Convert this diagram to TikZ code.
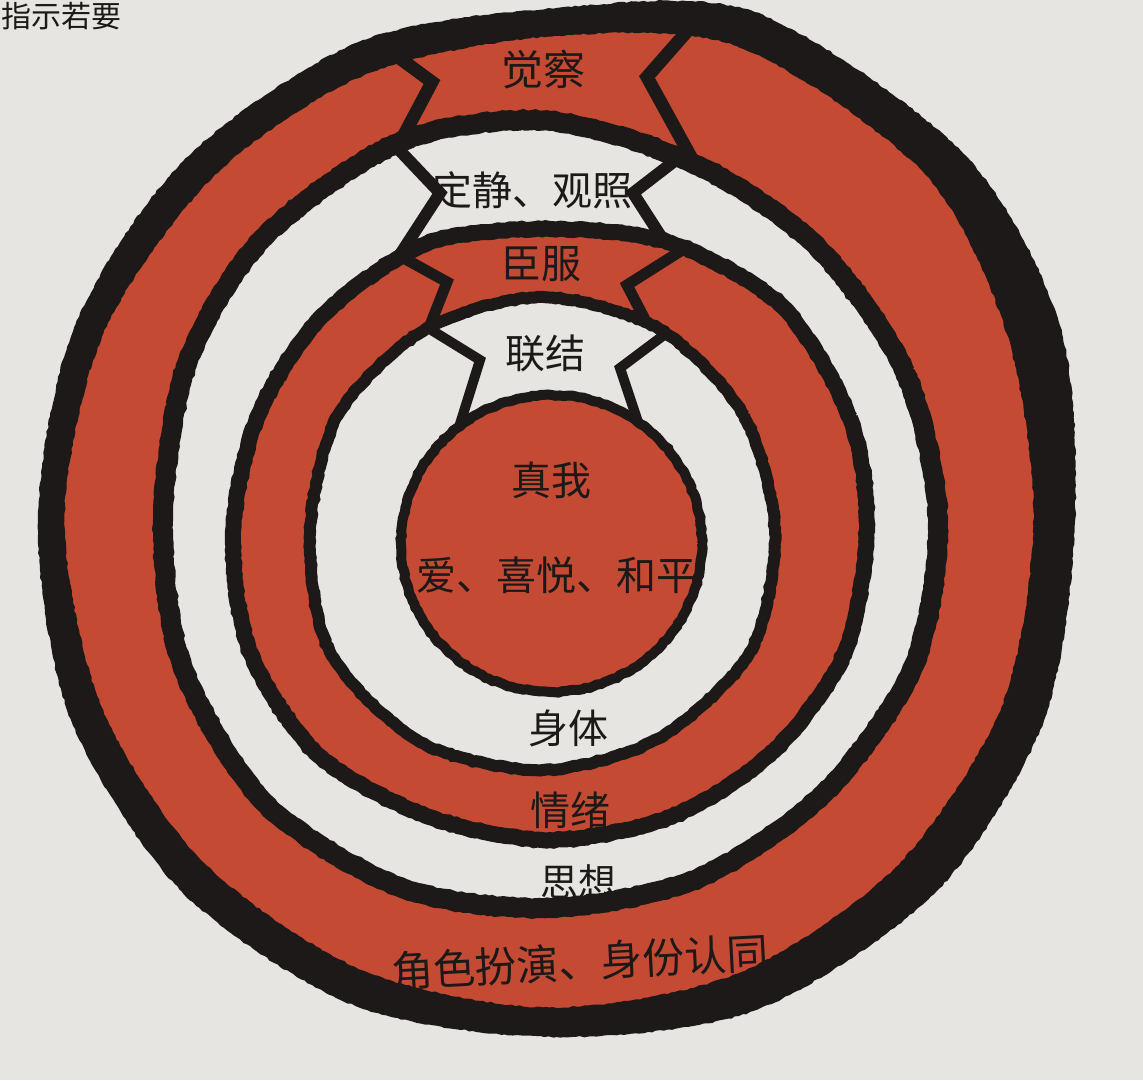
\documentclass[tikz,border=0pt]{standalone}
\usepackage{fontspec}
\usetikzlibrary{decorations.pathmorphing}
\newfontfamily\cjk{Noto Sans CJK SC}
\definecolor{paper}{HTML}{E6E5E1}
\definecolor{ring}{HTML}{C44A33}
\definecolor{ink}{HTML}{1C1918}
\begin{document}
\begin{tikzpicture}[x=1pt,y=-1pt,
  zig/.style={draw=ink, line width=#1, line cap=butt, line join=miter},
  rough/.style={decorate, decoration={random steps, segment length=4pt, amplitude=0.8pt}},
  lab/.style={text=ink, inner sep=0pt, font=\cjk\fontsize{40}{48}\selectfont},
  bigl/.style={text=ink, inner sep=0pt, font=\cjk\fontsize{42}{50}\selectfont},
]
\pgfmathsetseed{11}
\def\ringAout{plot[smooth cycle] coordinates {(1073,521.5) (1058,326) (962,155) (754,14) (556.5,10) (359,44) (185,162) (76,328) (40,521.5) (72,717) (183,890) (356,1004) (556,1035) (756,1008) (935,890) (1042,720)}}
\def\ringAin{plot[smooth cycle] coordinates {(1035,520) (1008,333) (925,172) (738,45) (549,35) (363,74) (212,176) (102,333) (63,520) (100,707) (203,864) (363,972) (549,1009) (738,975) (897,868) (1003,707)}}
\def\ringB{plot[smooth cycle] coordinates {(938,518) (905,372) (818,248) (699,166) (550.5,121) (402,141) (263,238) (187,364) (163,520) (182,665) (265,803) (402,888) (550.5,908) (699,878) (824.5,792.7) (914,665)}}
\def\ringC{plot[smooth cycle] coordinates {(867,528) (850,418) (782,306) (671,243) (550,229) (428,243) (322,316) (257,418) (233,535) (250,652) (318,755) (428.6,816.8) (550,840) (671.4,816.8) (774.1,750.7) (845,651.8)}}
\def\ringD{plot[smooth cycle] coordinates {(775,533.5) (743.9,415.3) (658.8,328.7) (542.5,297) (426.2,328.7) (338,415) (310,533.5) (330,652) (420,742) (542.5,770) (658.8,738.3) (750,652)}}
\def\ringCore{(551.5,543.5) ellipse [x radius=150.5, y radius=148.5]}

\useasboundingbox (0,0) rectangle (1143,1080);
\fill[paper] (0,0) rectangle (1143,1080);

% outermost red band
\fill[ring] \ringAin;
\begin{scope}
  \clip \ringAin;
  \draw[zig=13] (375,40) -- (432,82) -- (388,165);
  \draw[zig=13] (690,28) -- (647,77) -- (702,177);
\end{scope}

% white band
\fill[paper] \ringB;
\begin{scope}
  \clip \ringB;
  \draw[zig=12] (385,135) -- (440,193) -- (390,270);
  \draw[zig=12] (694,146) -- (633,193) -- (680,266);
\end{scope}

% red band
\fill[ring] \ringC;
\begin{scope}
  \clip \ringC;
  \draw[zig=11] (380,245) -- (447,282) -- (425,338);
  \draw[zig=11] (695,242) -- (627,285) -- (652,333);
\end{scope}

% inner white band
\fill[paper] \ringD;
\begin{scope}
  \clip \ringD;
  \draw[zig=10] (420,323) -- (480,360) -- (455,440);
  \draw[zig=10] (680,323) -- (620,368) -- (644,440);
\end{scope}

% core
\fill[ring] \ringCore;

% black rings: a smooth stroke under a rough one
\fill[ink, even odd rule] \ringAout \ringAin;
\draw[ink, line width=4, rough] \ringAout;
\draw[ink, line width=3, rough] \ringAin;
\draw[ink, line width=18] \ringB;
\draw[ink, line width=20, rough] \ringB;
\draw[ink, line width=14] \ringC;
\draw[ink, line width=16, rough] \ringC;
\draw[ink, line width=10] \ringD;
\draw[ink, line width=12, rough] \ringD;
\draw[ink, line width=8] \ringCore;
\draw[ink, line width=10, rough] \ringCore;

% labels
\node[bigl] (jc) at (543,70) {觉察};
\node[lab] (dj) at (532,190) {定静、观照};
\node[lab] (cf) at (541,264) {臣服};
\node[lab] (lj) at (545,353) {联结};
\node[lab] (zw) at (551,480) {真我};
\node[lab] (ax) at (556,575) {爱、喜悦、和平};
\node[lab] (st) at (568,728) {身体};
\node[lab] (qx) at (570,810) {情绪};
\node[text=ink, inner sep=0pt, font=\cjk\fontsize{38}{46}\selectfont] (sx) at (578,882) {思想};
\node[bigl, rotate=3] (js) at (580,962) {角色扮演、身份认同};

% line of book text at the top left
\node[text=ink, inner sep=0pt, font=\cjk\fontsize{30}{36}\selectfont, anchor=base west] (frag) at (1,27) {指示若要};
\end{tikzpicture}
\end{document}
